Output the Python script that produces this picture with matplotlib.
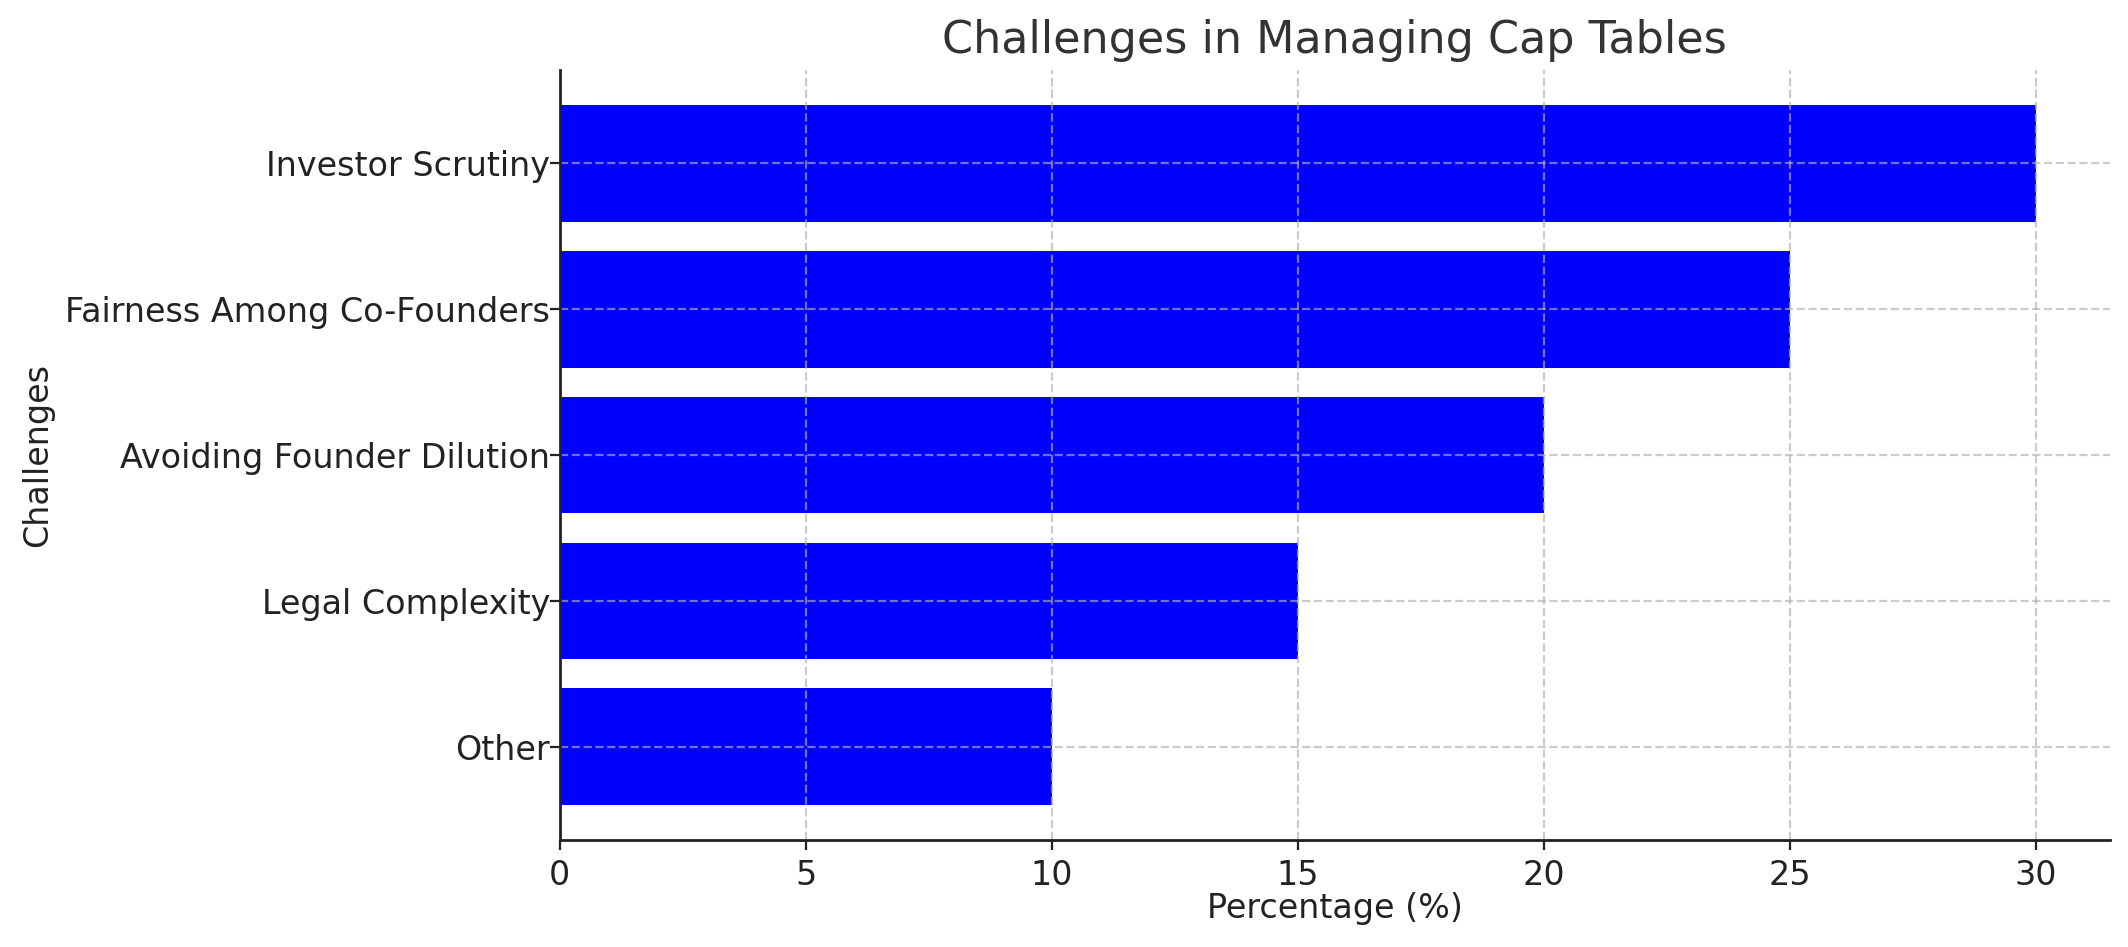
import matplotlib.pyplot as plt

# Data ====================================================================== #
challenges = ['Other', 'Legal Complexity', 'Avoiding Founder Dilution',
              'Fairness Among Co-Founders', 'Investor Scrutiny']
percentages = [10, 15, 20, 25, 30]

# Figure -------------------------------------------------------------------- #
fig, ax = plt.subplots(figsize=(10.64, 4.735), dpi=200)
fig.subplots_adjust(left=0.263, right=0.9915, top=0.926, bottom=0.113)

ax.barh(challenges, percentages, color='#0000ff')

ax.set_title('Challenges in Managing Cap Tables', fontsize=16, color='#333333')
ax.set_xlabel('Percentage (%)', fontsize=12, color='#222222', labelpad=0)
ax.set_ylabel('Challenges', fontsize=12, color='#222222')
ax.tick_params(labelsize=12, colors='#222222')
ax.tick_params(axis='y', pad=0)

# Grid over the bars, dashed light grey ------------------------------------- #
ax.set_axisbelow(False)
ax.grid(True, linestyle='--', color='#b0b0b0', alpha=0.65, linewidth=0.8)

for side in ['top', 'right']:
    ax.spines[side].set_visible(False)
for side in ['left', 'bottom']:
    ax.spines[side].set_color('#222222')
    ax.spines[side].set_linewidth(1.0)
    ax.spines[side].set_zorder(3)

fig.savefig('out.png', dpi=200)
